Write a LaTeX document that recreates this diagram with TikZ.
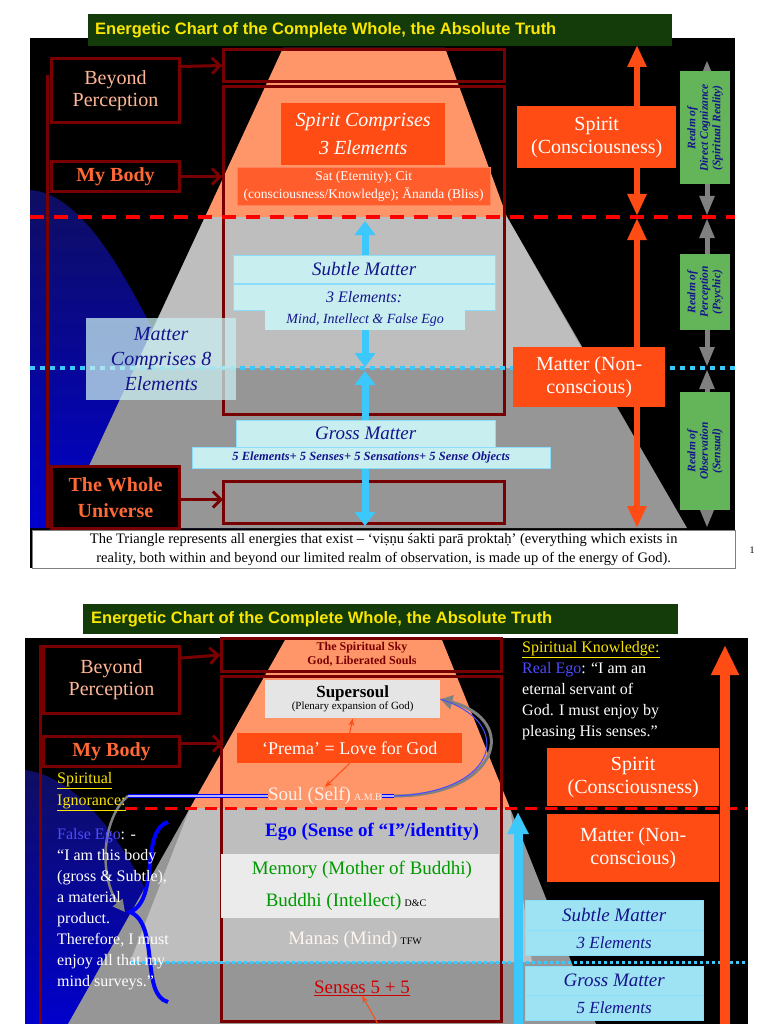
\documentclass[tikz,border=0pt]{standalone}
\usepackage{fontspec}
\setmainfont{Liberation Serif}
\newfontfamily\titlefont{Liberation Sans}
\usetikzlibrary{arrows.meta,calc}
\definecolor{dred}{RGB}{120,0,0}
\definecolor{ored}{RGB}{255,75,20}
\definecolor{salmon}{RGB}{255,150,105}
\definecolor{lgray}{RGB}{190,190,190}
\definecolor{dgray}{RGB}{150,150,150}
\definecolor{tgreen}{RGB}{20,60,10}
\definecolor{tyellow}{RGB}{250,230,0}
\definecolor{lcyan}{RGB}{200,238,240}
\definecolor{cyanA}{RGB}{60,200,250}
\definecolor{gbox}{RGB}{100,180,90}
\definecolor{navy}{RGB}{20,20,140}
\tikzset{
 frame/.style={draw=dred,line width=3pt},
 lbox/.style={draw=dred,line width=3pt,text=salmon!70!white,font=\fontsize{20}{22}\selectfont,align=center,inner sep=0},
 harrow/.style={dred,line width=3pt,-{Straight Barb[length=8pt,width=16pt]}},
 ttl/.style={fill=tgreen,text=tyellow,font=\titlefont\bfseries\fontsize{16.5}{18}\selectfont,inner sep=0},
 cbox/.style={fill=lcyan,draw=cyanA!60,text=navy,font=\itshape\fontsize{19}{21}\selectfont,inner sep=0},
 rbox/.style={fill=ored,text=white,align=center,inner sep=0,font=\fontsize{20}{23}\selectfont},
 gtxt/.style={fill=gbox,text=navy,font=\bfseries\itshape\fontsize{11.5}{12.5}\selectfont,align=center,rotate=90,inner sep=0},
 wtxt/.style={text=white,font=\fontsize{16}{21}\selectfont,align=left,anchor=north west,inner sep=0},
}
\begin{document}
\begin{tikzpicture}[x=1pt,y=-1pt]
\useasboundingbox (0,0) rectangle (768,1024);
\fill[white] (0,0) rectangle (768,1024);
% ===== SLIDE 1 =====
\fill[black] (30,38) rectangle (735,568);
\shade[top color=navy!70!black,bottom color=blue!80!black] (30,190) .. controls (110,195) and (170,380) .. (250,528) -- (30,528) -- cycle;
\fill[dgray] (60,528) -- (205,217) -- (507,217) -- (687,528) -- cycle;
\fill[lgray] (205,217) -- (507,217) -- (593,368) -- (135,368) -- cycle;
\fill[salmon] (283,48) -- (445,48) -- (507,217) -- (205,217) -- cycle;
\node[ttl,minimum width=584,minimum height=32,anchor=north west] (t1) at (88,14) {};
\node[ttl,fill=none,anchor=west] (t1t) at (95,30) {Energetic Chart of the Complete Whole, the Absolute Truth};
% frames
\node[frame,minimum width=281,minimum height=32,anchor=north west] (top1) at (222,48) {};
\node[frame,minimum width=281,minimum height=328,anchor=north west] (main1) at (222,85) {};
\node[frame,minimum width=281,minimum height=42,anchor=north west] (bot1) at (222,480) {};
\draw[dred,line width=3pt] (47,75) -- (47,528);
\node[lbox,minimum width=128,minimum height=64,anchor=north west] (bp1) at (50,57) {Beyond\\Perception};
\node[lbox,minimum width=128,minimum height=30,anchor=north west,font=\bfseries\fontsize{20}{22}\selectfont,text=ored!60!salmon] (mb1) at (50,160) {My Body};
\node[lbox,fill=black,minimum width=128,minimum height=62,anchor=north west,font=\bfseries\fontsize{20}{26}\selectfont,text=ored!60!salmon] (wu1) at (50,465) {The Whole\\Universe};
\draw[harrow] (bp1.east) ++(0,-24) -- (top1.west);
\draw[harrow] (mb1.east) -- (mb1.east -| main1.west);
\draw[harrow] (wu1.east) ++(0,2) -- ++(42,0);
% spirit comprises
\node[rbox,minimum width=164,minimum height=62,anchor=north west,font=\itshape\fontsize{20}{28}\selectfont] (sc) at (281,103) {Spirit Comprises\\3 Elements};
\node[fill=ored!90!white,draw=ored!70,text=white,align=center,inner sep=0,minimum width=253,minimum height=38,anchor=north west,font=\fontsize{13.5}{18}\selectfont] (sat) at (237,167) {Sat (Eternity); Cit\\(consciousness/Knowledge); Ānanda (Bliss)};
% lines
\draw[red,line width=4pt,dash pattern=on 14pt off 10pt] (30,217) -- (735,217);
\draw[cyanA,line width=4pt,dash pattern=on 5pt off 5pt] (30,368) -- (735,368);
% cyan arrows
\coordinate (ca1) at (365,221); \coordinate (ca2) at (365,367);
\coordinate (ca3) at (365,371); \coordinate (ca4) at (365,526);
\draw[cyanA,line width=7pt,{Triangle[length=14pt,width=20pt]}-{Triangle[length=14pt,width=20pt]}] (ca1) -- (ca2);
\draw[cyanA,line width=7pt,{Triangle[length=14pt,width=20pt]}-{Triangle[length=14pt,width=20pt]}] (ca3) -- (ca4);
\node[cbox,minimum width=262,minimum height=28,anchor=north west] (sm1) at (233,255) {Subtle Matter};
\node[cbox,minimum width=262,minimum height=26,anchor=north west,font=\itshape\fontsize{16}{18}\selectfont] (te1) at (233,284) {3 Elements:};
\node[cbox,draw=none,minimum width=200,minimum height=20,anchor=north west,font=\itshape\fontsize{14}{16}\selectfont] (mi1) at (265,310) {Mind, Intellect \& False Ego};
\node[fill=lcyan,opacity=0.75,text opacity=1,text=navy,font=\itshape\fontsize{20}{25}\selectfont,align=center,inner sep=0,minimum width=150,minimum height=82,anchor=north west] (mc) at (86,318) {Matter\\Comprises 8\\Elements};
\node[cbox,minimum width=259,minimum height=27,anchor=north west] (gm1) at (236,420) {Gross Matter};
\node[cbox,minimum width=358,minimum height=21,anchor=north west,font=\bfseries\itshape\fontsize{12.5}{14}\selectfont] (fe1) at (192,447) {5 Elements+ 5 Senses+ 5 Sensations+ 5 Sense Objects};
% red arrows
\coordinate (ra1) at (637,45); \coordinate (ra2) at (637,216);
\coordinate (ra3) at (637,218); \coordinate (ra4) at (637,528);
\draw[ored,line width=6pt,{Triangle[length=22pt,width=18pt]}-{Triangle[length=22pt,width=18pt]}] (ra1) -- (ra2);
\draw[ored,line width=6pt,{Triangle[length=22pt,width=18pt]}-{Triangle[length=22pt,width=18pt]}] (ra3) -- (ra4);
\node[rbox,minimum width=159,minimum height=62,anchor=north west] (sp1) at (517,106) {Spirit\\(Consciousness)};
\node[rbox,minimum width=152,minimum height=60,anchor=north west] (ma1) at (513,347) {Matter (Non-\\conscious)};
% gray arrows
\foreach \a/\b in {60/216,218/367,369/528}{
 \draw[gray,line width=5pt,{Triangle[length=20pt,width=14pt]}-{Triangle[length=20pt,width=14pt]}] (707,\a) -- (707,\b);}
\node[gtxt,minimum width=113,minimum height=50] (g1) at (705,128) {Realm of\\Direct Cognizance\\(Spiritual Reality)};
\node[gtxt,minimum width=76,minimum height=50] (g2) at (705,292) {Realm of\\Perception\\(Psychic)};
\node[gtxt,minimum width=118,minimum height=50] (g3) at (705,451) {Realm of\\Observation\\(Sensual)};
% caption
\node[fill=white,draw=gray,minimum width=703,minimum height=38,anchor=north west,inner sep=0,align=center,font=\fontsize{14.5}{19}\selectfont] (cap) at (32,530) {The Triangle represents all energies that exist – ‘viṣṇu śakti parā proktaḥ’ (everything which exists in\\reality, both within and beyond our limited realm of observation, is made up of the energy of God).};
\node[font=\fontsize{10}{10}\selectfont] (pg) at (752,550) {1};
% ===== SLIDE 2 =====
\fill[black] (25,638) rectangle (748,1024);
\shade[top color=navy!70!black,bottom color=blue!80!black] (25,770) .. controls (100,780) and (160,900) .. (200,1024) -- (25,1024) -- cycle;
\fill[dgray] (68,1024) -- (190,808) -- (510,808) -- (596,1024) -- cycle;
\fill[lgray] (190,808) -- (510,808) -- (532,962) -- (130,962) -- cycle;
\fill[salmon] (285,640) -- (442,640) -- (510,808) -- (190,808) -- cycle;
\node[ttl,minimum width=595,minimum height=30,anchor=north west] (t2) at (83,604) {};
\node[ttl,fill=none,anchor=west] (t2t) at (91,619) {Energetic Chart of the Complete Whole, the Absolute Truth};
\node[frame,minimum width=280,minimum height=33,anchor=north west] (top2) at (220,637) {};
\node[frame,minimum width=280,minimum height=345,anchor=north west] (main2) at (220,675) {};
\node[text=dred,align=center,font=\bfseries\fontsize{12}{14}\selectfont,inner sep=0] (sky) at (362,654) {The Spiritual Sky\\God, Liberated Souls};
\draw[dred,line width=3pt] (40,645) -- (40,1024);
\node[lbox,minimum width=136,minimum height=67,anchor=north west] (bp2) at (42,645) {Beyond\\Perception};
\node[lbox,minimum width=136,minimum height=30,anchor=north west,font=\bfseries\fontsize{20}{22}\selectfont,text=ored!60!salmon] (mb2) at (42,735) {My Body};
\draw[harrow] (bp2.east) ++(0,-22) -- (top2.west);
\draw[harrow] (mb2.east) ++(0,-8) -- ++(42,0);
% boxes
\node[fill=lgray!40,inner sep=0,minimum width=175,minimum height=38,anchor=north west,align=center] (ss) at (265,680) {\fontsize{17}{20}\selectfont\bfseries Supersoul\\\fontsize{11}{14}\selectfont(Plenary expansion of God)};
\node[rbox,minimum width=225,minimum height=30,anchor=north west,font=\fontsize{18}{20}\selectfont] (pr) at (237,733) {‘Prema’ = Love for God};
\node[text=white!85!salmon,inner sep=0,font=\fontsize{19}{21}\selectfont] (soul) at (325,796) {Soul (Self)\,\fontsize{10}{11}\selectfont A.M.B};
\draw[ored,line width=1pt,-{Stealth}] (pr.north) -- (ss.south);
\draw[ored,line width=1pt,-{Stealth}] (pr.south) -- (soul.north);
% blue links
\coordinate (bl1) at (128,796);
\draw[blue,double=blue!30,line width=1pt,double distance=2pt] (bl1) -- (soul.west);
\draw[blue,double=blue!30,line width=1pt,double distance=2pt] (soul.east) -- ++(12,0) coordinate (bl2);
\draw[gray,line width=3pt,-{Triangle[length=12pt,width=14pt]}] (bl2) .. controls (500,796) and (520,720) .. (ss.east);
\draw[blue!70,line width=1pt] (bl2) .. controls (500,792) and (515,722) .. (ss.east);
\coordinate (bl3) at (125,912);
\draw[gray,line width=2.5pt,-{Triangle[length=12pt,width=12pt]}] (bl1) .. controls (100,820) and (100,880) .. (bl3);
\draw[red,line width=3pt,dash pattern=on 12pt off 8pt] (125,808) -- (748,808);
\draw[cyanA,line width=3pt,dash pattern=on 3pt off 3pt] (130,962) -- (748,962);
% layers
\node[text=blue,font=\bfseries\fontsize{19}{21}\selectfont,inner sep=0] (ego) at (372,832) {Ego (Sense of “I”/identity)};
\node[fill=lgray!30,inner sep=0,minimum width=278,minimum height=64,anchor=north west] (mem) at (221,854) {};
\node[text=green!60!black,font=\fontsize{19}{21}\selectfont,inner sep=0] (memt) at (362,870) {Memory (Mother of Buddhi)};
\node[text=green!60!black,font=\fontsize{19}{21}\selectfont,inner sep=0] (bud) at (346,902) {Buddhi (Intellect)\,\textcolor{black}{\fontsize{10}{11}\selectfont D\&C}};
\node[text=white!90!salmon,font=\fontsize{19}{21}\selectfont,inner sep=0] (man) at (355,940) {Manas (Mind)\,\textcolor{black}{\fontsize{10}{11}\selectfont TFW}};
\node[text=red!80!black,font=\fontsize{19}{21}\selectfont,inner sep=0] (sen) at (362,988) {\underline{Senses 5 + 5}};
\coordinate (sa) at (378,1024);
\draw[ored,line width=1pt,-{Stealth}] (sa) -- (sen.south);
% brace
\draw[blue,line width=4pt] (168,822) .. controls (140,830) and (160,900) .. (130,912) .. controls (160,924) and (140,995) .. (168,1002);
% left text
\node[text=tyellow,font=\fontsize{16}{22}\selectfont,align=left,anchor=north west,inner sep=0] (si) at (57,772) {\underline{Spiritual}\\\underline{Ignorance:}};
\node[wtxt] (fe) at (57,828) {\textcolor{blue!70!white}{False Ego}: -\\“I am this body\\(gross \& Subtle),\\a material\\product.\\Therefore, I must\\enjoy all that my\\mind surveys.”};
% right text
\node[text=tyellow,font=\fontsize{16}{21}\selectfont,anchor=north west,inner sep=0] (sk) at (522,641) {\underline{Spiritual Knowledge:}};
\node[wtxt] (re) at (522,662) {\textcolor{blue!70!white}{Real Ego}: “I am an\\eternal servant of\\God. I must enjoy by\\pleasing His senses.”};
% right boxes
\node[rbox,minimum width=172,minimum height=58,anchor=north west] (sp2) at (547,748) {Spirit\\(Consciousness)};
\node[rbox,minimum width=172,minimum height=68,anchor=north west] (ma2) at (547,814) {Matter (Non-\\conscious)};
\coordinate (rt) at (725,645); \coordinate (rb) at (725,1024);
\draw[ored,line width=10pt,-{Triangle[length=30pt,width=26pt]}] (rb) -- (rt);
\coordinate (cb) at (518,1024); \coordinate (ct) at (518,812);
\draw[cyanA,line width=9pt,-{Triangle[length=22pt,width=20pt]}] (cb) -- (ct);
\node[cbox,fill=lcyan!70!cyanA,minimum width=178,minimum height=30,anchor=north west] (sm2) at (525,900) {Subtle Matter};
\node[cbox,fill=lcyan!70!cyanA,minimum width=178,minimum height=25,anchor=north west,font=\itshape\fontsize{17}{19}\selectfont] (te2) at (525,930) {3 Elements};
\node[cbox,fill=lcyan!70!cyanA,minimum width=178,minimum height=29,anchor=north west] (gm2) at (525,966) {Gross Matter};
\node[cbox,fill=lcyan!70!cyanA,minimum width=178,minimum height=25,anchor=north west,font=\itshape\fontsize{17}{19}\selectfont] (fe2) at (525,995) {5 Elements};
\end{tikzpicture}
\end{document}
